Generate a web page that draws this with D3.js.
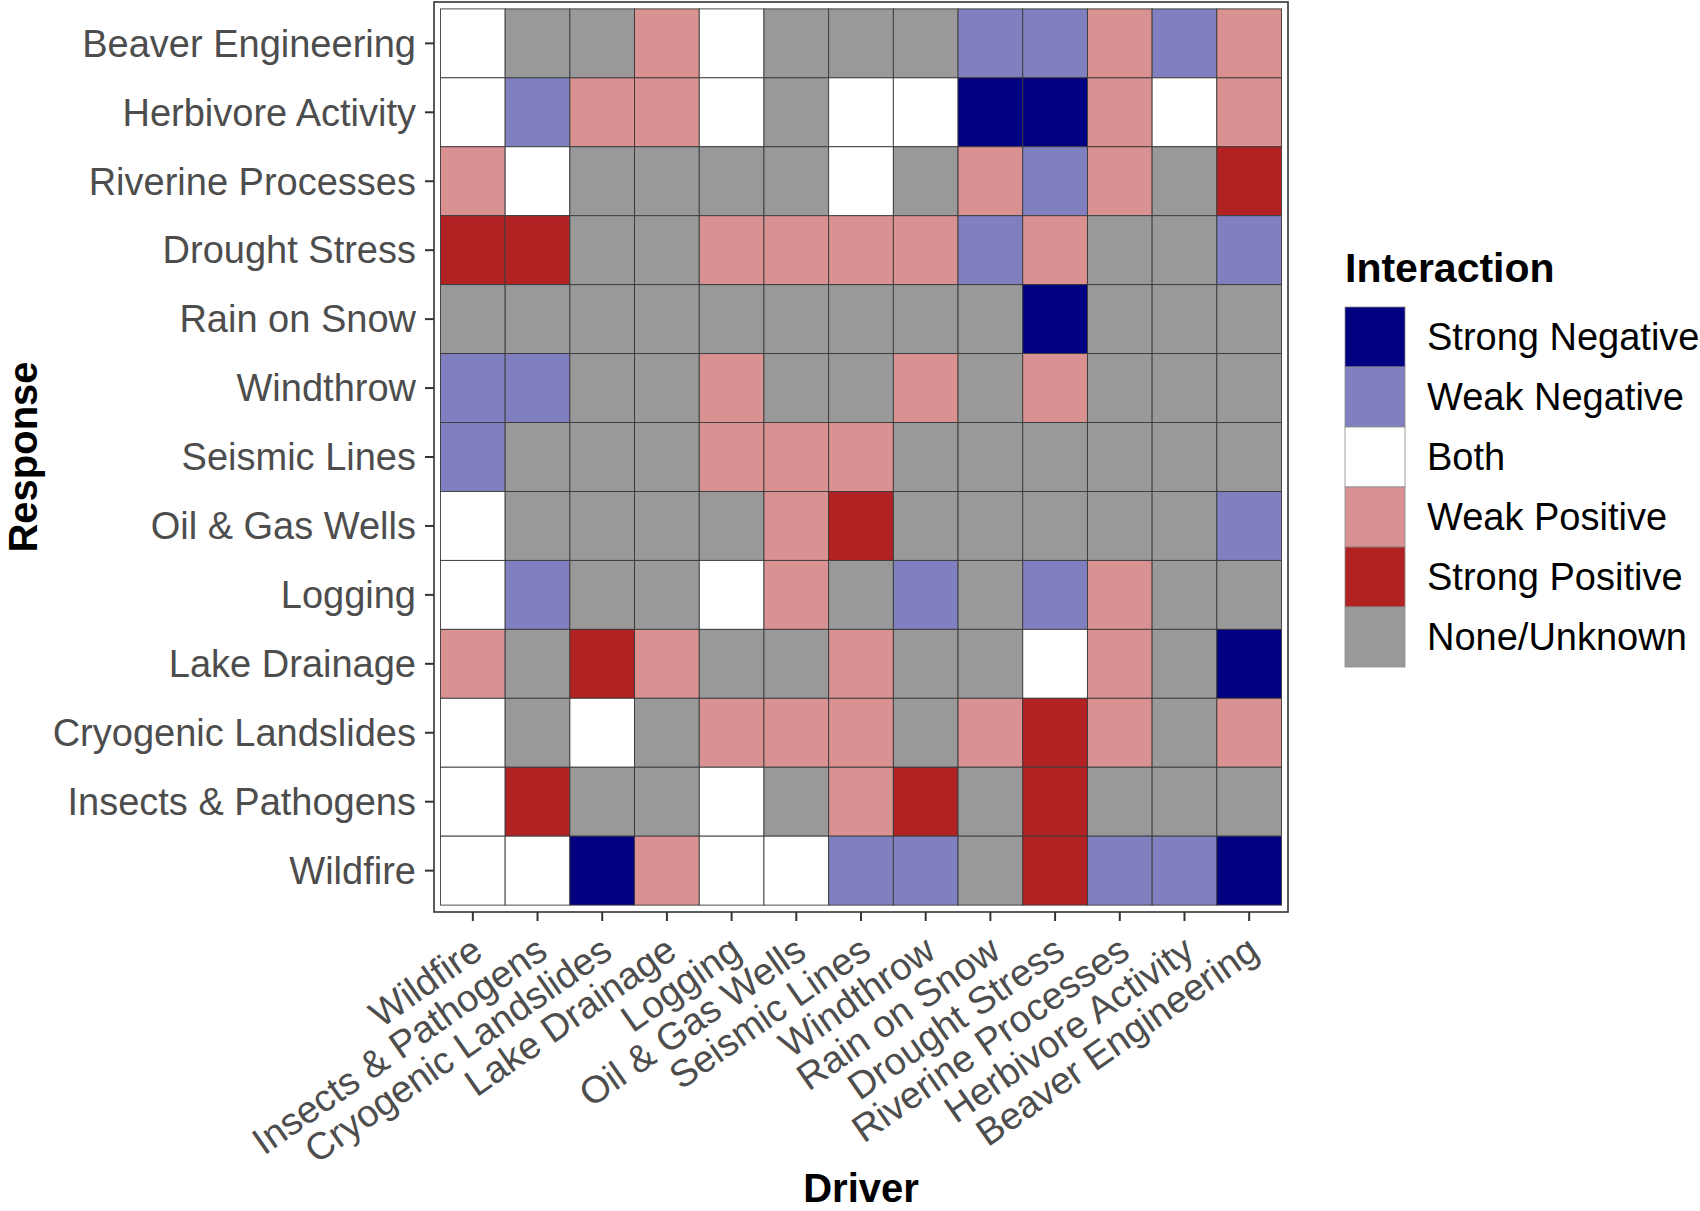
<!DOCTYPE html>
<html>
<head>
<meta charset="utf-8">
<script src="https://cdn.jsdelivr.net/npm/d3@7"></script>
<style>
  body { margin: 0; background: #fff; }
  text { font-family: "Liberation Sans", Arial, sans-serif; }
</style>
</head>
<body>
<svg id="chart" width="1700" height="1211"></svg>
<script>
// drivers along the x axis, left to right
var drivers = ['Wildfire', 'Insects & Pathogens', 'Cryogenic Landslides', 'Lake Drainage', 'Logging',
	'Oil & Gas Wells', 'Seismic Lines', 'Windthrow', 'Rain on Snow', 'Drought Stress',
	'Riverine Processes', 'Herbivore Activity', 'Beaver Engineering'];

// responses along the y axis, top row first
var responses = ['Beaver Engineering', 'Herbivore Activity', 'Riverine Processes', 'Drought Stress',
	'Rain on Snow', 'Windthrow', 'Seismic Lines', 'Oil & Gas Wells', 'Logging', 'Lake Drainage',
	'Cryogenic Landslides', 'Insects & Pathogens', 'Wildfire'];

var levels = ['Strong Negative', 'Weak Negative', 'Both', 'Weak Positive', 'Strong Positive', 'None/Unknown'];
var levelCodes = ['SN', 'WN', 'B', 'WP', 'SP', 'N'];
var levelColors = ['#000080', '#8080c0', '#ffffff', '#d99191', '#b22222', '#999999'];

// one row per response (same order as responses), one code per driver
var grid = [
	['B', 'N', 'N', 'WP', 'B', 'N', 'N', 'N', 'WN', 'WN', 'WP', 'WN', 'WP'],
	['B', 'WN', 'WP', 'WP', 'B', 'N', 'B', 'B', 'SN', 'SN', 'WP', 'B', 'WP'],
	['WP', 'B', 'N', 'N', 'N', 'N', 'B', 'N', 'WP', 'WN', 'WP', 'N', 'SP'],
	['SP', 'SP', 'N', 'N', 'WP', 'WP', 'WP', 'WP', 'WN', 'WP', 'N', 'N', 'WN'],
	['N', 'N', 'N', 'N', 'N', 'N', 'N', 'N', 'N', 'SN', 'N', 'N', 'N'],
	['WN', 'WN', 'N', 'N', 'WP', 'N', 'N', 'WP', 'N', 'WP', 'N', 'N', 'N'],
	['WN', 'N', 'N', 'N', 'WP', 'WP', 'WP', 'N', 'N', 'N', 'N', 'N', 'N'],
	['B', 'N', 'N', 'N', 'N', 'WP', 'SP', 'N', 'N', 'N', 'N', 'N', 'WN'],
	['B', 'WN', 'N', 'N', 'B', 'WP', 'N', 'WN', 'N', 'WN', 'WP', 'N', 'N'],
	['WP', 'N', 'SP', 'WP', 'N', 'N', 'WP', 'N', 'N', 'B', 'WP', 'N', 'SN'],
	['B', 'N', 'B', 'N', 'WP', 'WP', 'WP', 'N', 'WP', 'SP', 'WP', 'N', 'WP'],
	['B', 'SP', 'N', 'N', 'B', 'N', 'WP', 'SP', 'N', 'SP', 'N', 'N', 'N'],
	['B', 'B', 'SN', 'WP', 'B', 'B', 'WN', 'WN', 'N', 'SP', 'WN', 'WN', 'SN']
];

var svg = d3.select('#chart');
var panel = { left: 434, right: 1288, top: 2, bottom: 912 };

var x = d3.scaleBand().domain(drivers).range([panel.left, panel.right]).paddingOuter(0.1);
var y = d3.scaleBand().domain(responses).range([panel.top, panel.bottom]).paddingOuter(0.1);
var fill = d3.scaleOrdinal().domain(levelCodes).range(levelColors);

var cells = [];
grid.forEach(function (row, i) {
	row.forEach(function (code, j) {
		cells.push({ response: responses[i], driver: drivers[j], code: code });
	});
});

// tiles
svg.append('g').selectAll('rect')
	.data(cells)
	.enter().append('rect')
	.attr('x', d => x(d.driver))
	.attr('y', d => y(d.response))
	.attr('width', x.bandwidth())
	.attr('height', y.bandwidth())
	.attr('fill', d => fill(d.code))
	.attr('stroke', '#3a3a3a')
	.attr('stroke-width', 0.9);

// panel border
svg.append('rect')
	.attr('x', panel.left).attr('y', panel.top)
	.attr('width', panel.right - panel.left).attr('height', panel.bottom - panel.top)
	.attr('fill', 'none').attr('stroke', '#333').attr('stroke-width', 1.6);

// x axis
var xAxis = svg.append('g')
	.attr('transform', 'translate(0,' + panel.bottom + ')')
	.call(d3.axisBottom(x).tickSize(9).tickSizeOuter(0));
xAxis.select('.domain').remove();
xAxis.selectAll('line').attr('stroke', '#333').attr('stroke-width', 2);
xAxis.selectAll('text')
	.attr('x', 0).attr('y', 0).attr('dy', 0)
	.attr('transform', 'translate(12,44) rotate(-35)')
	.attr('text-anchor', 'end')
	.attr('fill', '#4d4d4d')
	.style('font-size', '38px')
	.style('font-family', '"Liberation Sans", Arial, sans-serif');

// y axis
var yAxis = svg.append('g')
	.attr('transform', 'translate(' + panel.left + ',0)')
	.call(d3.axisLeft(y).tickSize(9).tickPadding(9).tickSizeOuter(0));
yAxis.select('.domain').remove();
yAxis.selectAll('line').attr('stroke', '#333').attr('stroke-width', 2);
yAxis.selectAll('text')
	.attr('dy', '0.35em')
	.attr('fill', '#4d4d4d')
	.style('font-size', '38px')
	.style('font-family', '"Liberation Sans", Arial, sans-serif');

// axis titles
svg.append('text')
	.attr('x', (panel.left + panel.right) / 2).attr('y', 1202)
	.attr('text-anchor', 'middle')
	.style('font-size', '40px').style('font-weight', 'bold')
	.text('Driver');
svg.append('text')
	.attr('transform', 'translate(37,' + (panel.top + panel.bottom) / 2 + ') rotate(-90)')
	.attr('text-anchor', 'middle')
	.style('font-size', '40px').style('font-weight', 'bold')
	.text('Response');

// legend
var legend = svg.append('g').attr('transform', 'translate(1345,0)');
legend.append('text')
	.attr('x', 0).attr('y', 282)
	.style('font-size', '41px').style('font-weight', 'bold')
	.text('Interaction');
var keySize = 60;
var key = legend.selectAll('.key')
	.data(levelCodes)
	.enter().append('g')
	.attr('class', 'key')
	.attr('transform', (d, i) => 'translate(0,' + (307 + i * keySize) + ')');
key.append('rect')
	.attr('width', keySize).attr('height', keySize)
	.attr('fill', d => fill(d))
	.attr('stroke', '#8a8a8a').attr('stroke-width', 0.8);
key.append('text')
	.attr('x', 82).attr('y', keySize / 2).attr('dy', '0.35em')
	.style('font-size', '38px')
	.text((d, i) => levels[i]);
</script>
</body>
</html>
